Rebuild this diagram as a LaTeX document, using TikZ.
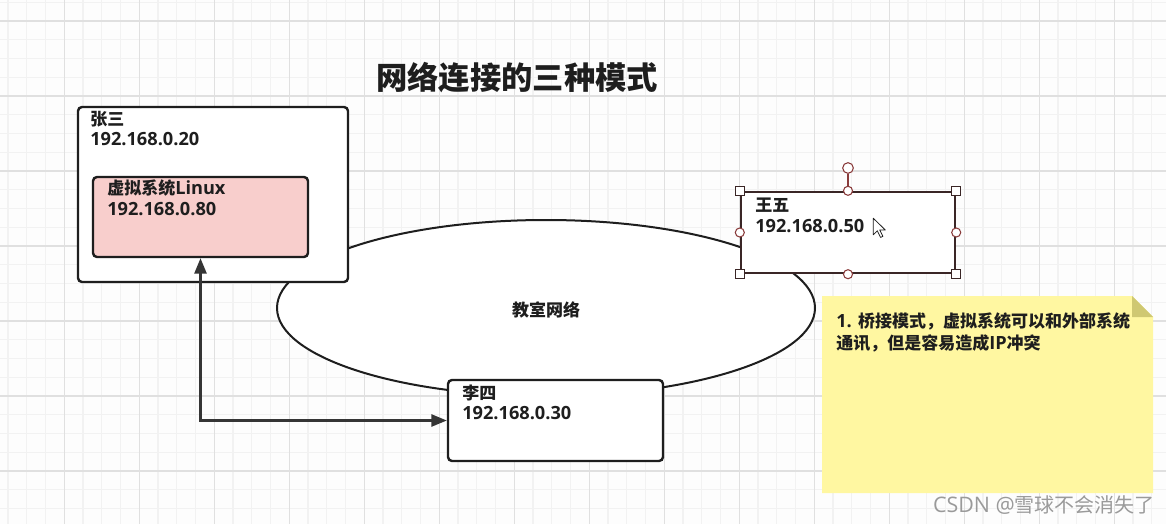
\documentclass[tikz,border=0pt]{standalone}
\usepackage{fontspec}
\setmainfont[Scale=1.07]{Open Sans}
\newfontfamily\cjk{Noto Sans CJK SC}
\usetikzlibrary{arrows.meta,shapes.geometric}
\definecolor{ink}{HTML}{1E1E1E}
\definecolor{bgc}{HTML}{FDFDFD}
\definecolor{gridmin}{HTML}{F2F2F2}
\definecolor{gridmaj}{HTML}{E0E0E0}
\definecolor{pinkfill}{HTML}{F8CECC}
\definecolor{notefill}{HTML}{FFF7A1}
\definecolor{notefold}{HTML}{CFC872}
\definecolor{selbord}{HTML}{3A2626}
\definecolor{selred}{HTML}{8A3C3C}
\definecolor{wmark}{HTML}{9A9A9A}
\tikzset{
  boxstyle/.style={draw=ink, line width=1.8pt, fill=white, rounded corners=3pt, inner sep=0pt},
  txt/.style={anchor=base west, inner sep=0pt, text=ink, font=\fontsize{12.75pt}{15pt}\selectfont\bfseries},
  conn/.style={draw=ink!90, line width=1.7pt, {Triangle[length=11.5pt,width=9pt]}-{Triangle[length=11.5pt,width=9pt]}},
  hsq/.style={draw=selbord, line width=0.8pt, fill=white, minimum size=6.5pt, inner sep=0pt},
  hci/.style={circle, draw=selred, line width=0.8pt, fill=white, minimum size=6.8pt, inner sep=0pt},
}
\begin{document}
\begin{tikzpicture}[x=0.75pt,y=-0.75pt]
\useasboundingbox (0,0) rectangle (1166,524);
\fill[bgc] (0,0) rectangle (1166,524);
% grid
\foreach \i in {0,...,61} \draw[gridmin, line width=0.9pt] ({8.05+18.75*\i},0) -- ++(0,524);
\foreach \j in {0,...,27} \draw[gridmin, line width=0.9pt] (0,{2.25+18.75*\j}) -- ++(1166,0);
\foreach \i in {0,...,15} \draw[gridmaj, line width=0.9pt] ({64.3+75*\i},0) -- ++(0,524);
\foreach \j in {0,...,6} \draw[gridmaj, line width=0.9pt] (0,{21+75*\j}) -- ++(1166,0);

% title
\node[inner sep=0pt, text=ink, font=\fontsize{23.5pt}{28pt}\selectfont\cjk\bfseries] (title) at (517,78) {网络连接的三种模式};

% network ellipse
\node[ellipse, draw=ink, line width=1.5pt, fill=white, minimum width=403.5pt, minimum height=132pt, inner sep=0pt] (net) at (546,308) {};
\node[inner sep=0pt, text=ink, font=\fontsize{12.75pt}{15pt}\selectfont\cjk\bfseries] (netlabel) at (546,310) {教室网络};

% boxes
\node[boxstyle, minimum width=202.5pt, minimum height=131.25pt] (zs) at (213,194.5) {};
\node[boxstyle, fill=pinkfill, minimum width=161.25pt, minimum height=60pt] (vm) at (200.5,217) {};
\node[boxstyle, draw=selbord, rounded corners=0pt, minimum width=160.5pt, minimum height=60.75pt] (ww) at (848,232.5) {};
\node[boxstyle, minimum width=161.25pt, minimum height=60.75pt] (ls) at (555.5,420.5) {};

% texts
\node[txt] (zs1) at (90,125.5) {\cjk 张三};
\node[txt] (zs2) at (90,146) {192.168.0.20};
\node[txt] (vm1) at (107,194.5) {{\cjk 虚拟系统}Linux};
\node[txt] (vm2) at (107,215) {192.168.0.80};
\node[txt] (ww1) at (755,211.5) {\cjk 王五};
\node[txt] (ww2) at (755,232) {192.168.0.50};
\node[txt] (ls1) at (462,399.5) {\cjk 李四};
\node[txt] (ls2) at (462,419) {192.168.0.30};

% connector
\draw[conn] (vm.south) |- (ls.west);

% selection handles on 王五
\node[hci, minimum size=8pt] (rot) at (848,168) {};
\draw[selred, line width=0.9pt] (rot.south) -- (ww.north);
\node[hsq] (h1) at (ww.north west) {};
\node[hsq] (h2) at (ww.north east) {};
\node[hsq] (h3) at (ww.south west) {};
\node[hsq] (h4) at (ww.south east) {};
\node[hci] (h5) at (ww.north) {};
\node[hci] (h6) at (ww.south) {};
\node[hci] (h7) at (ww.west) {};
\node[hci] (h8) at (ww.east) {};

% mouse cursor
\draw[ink, line width=0.6pt, fill=white, line join=round]
  (873.3,218.3) -- ++(0,16.5) -- ++(4,-4) -- ++(3.3,6.6) -- ++(2.3,-1.1) -- ++(-3.2,-6.3) -- ++(5.6,0) -- cycle;

% sticky note
\fill[notefill] (822,296) -- (1132,296) -- (1153,317) -- (1153,493) -- (822,493) -- cycle;
\fill[notefold] (1132,296) -- (1132,317) -- (1153,317) -- cycle;
\node[inner sep=0pt] (note) at (987.5,394.5) {};
\node[txt] (n1) at (836,327.5) {1. {\cjk 桥接模式，虚拟系统可以和外部系统}};
\node[txt] (n2) at (836,349.5) {{\cjk 通讯，但是容易造成}IP{\cjk 冲突}};

% watermark
\node[inner sep=0pt, text=wmark, font=\fontsize{15pt}{18pt}\selectfont] (wm) at (1044,505) {CSDN @{\cjk 雪球不会消失了}};
\end{tikzpicture}
\end{document}
